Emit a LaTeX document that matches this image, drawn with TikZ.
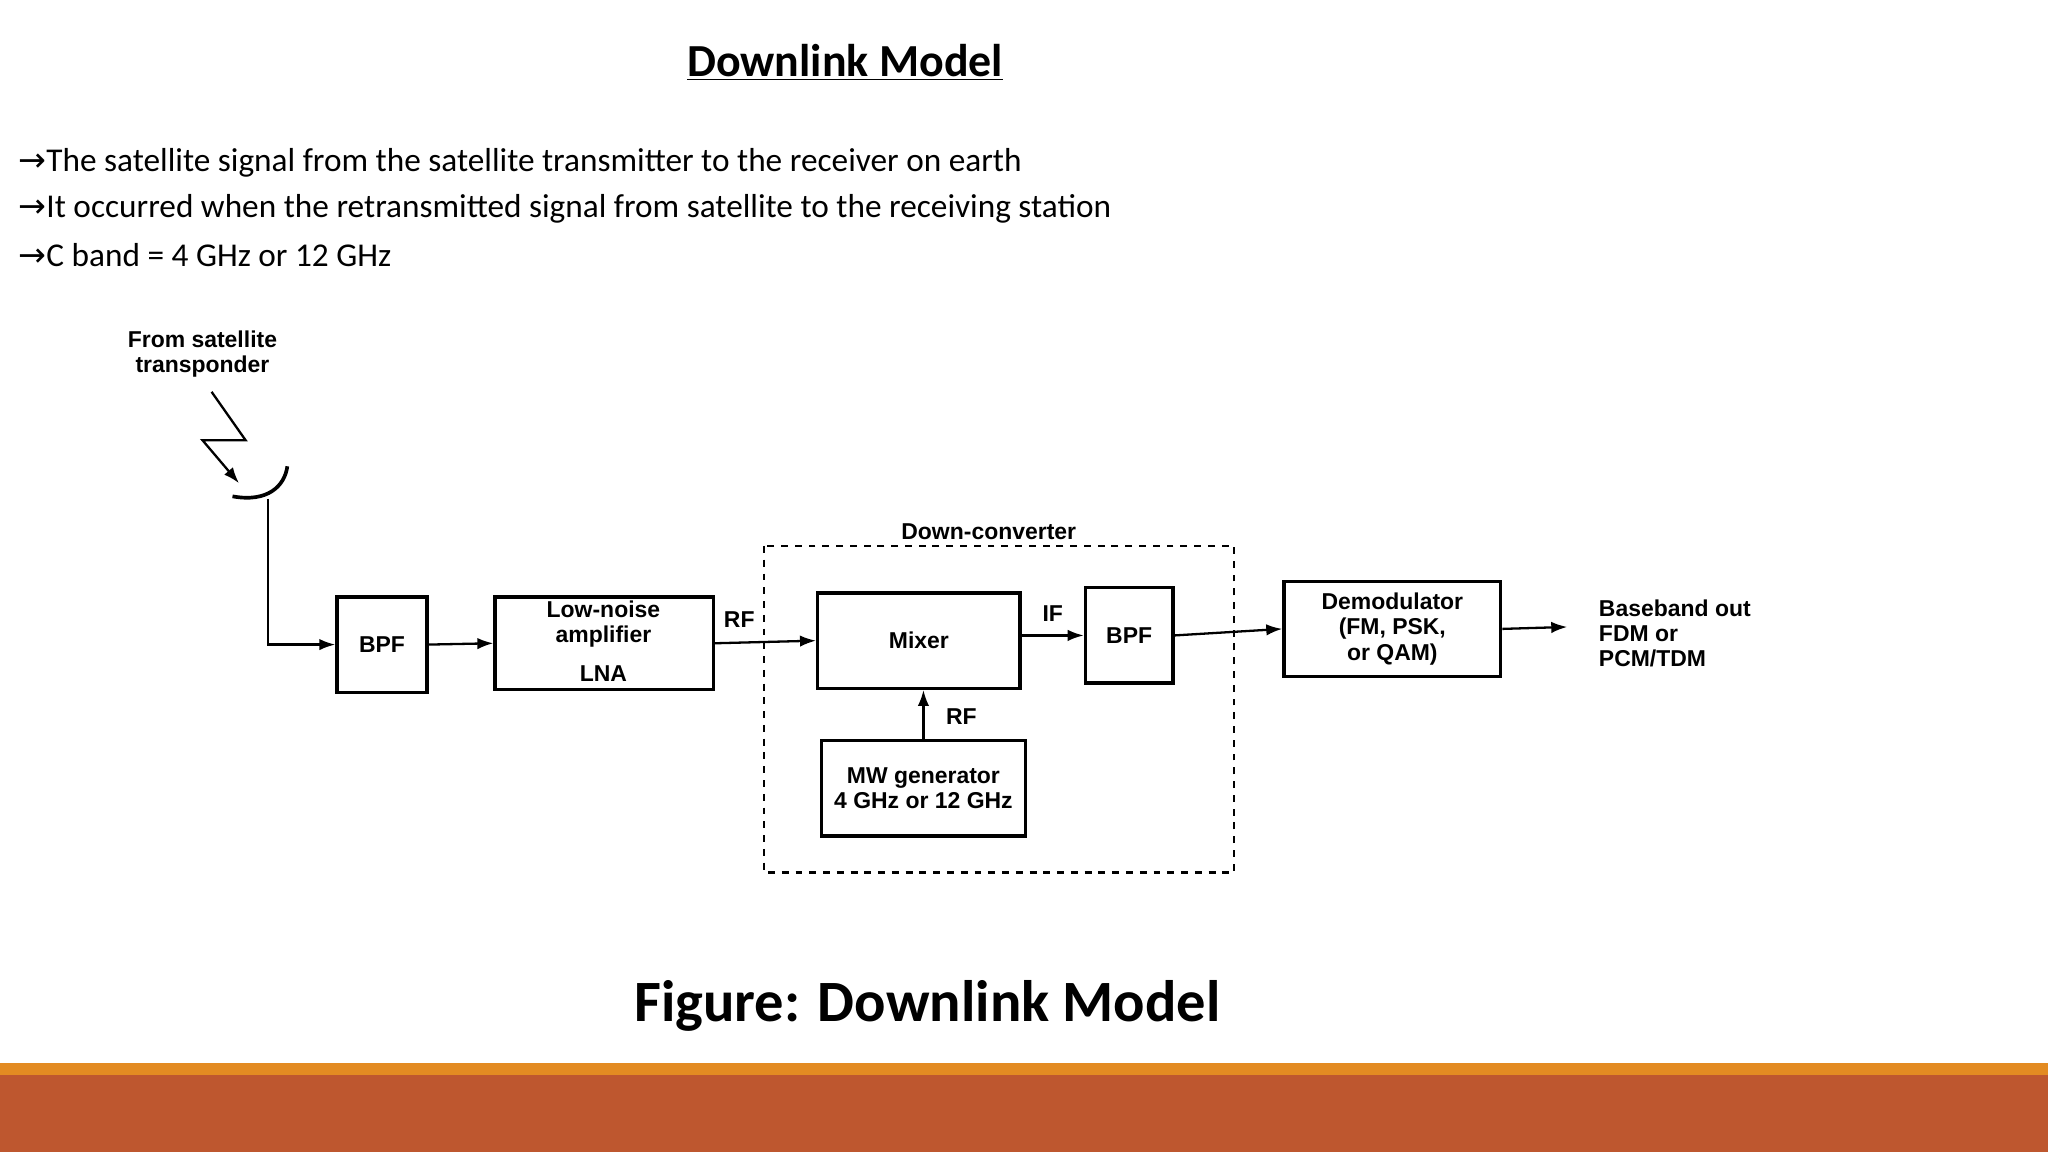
\documentclass[tikz,border=0pt]{standalone}
\usepackage{fontspec}
\setmainfont{Carlito}
\newfontfamily\arr{DejaVu Sans}
\newfontfamily\dg{Liberation Sans}
\usetikzlibrary{arrows.meta}
\definecolor{barA}{HTML}{E38B22}
\definecolor{barB}{HTML}{BE572F}
\begin{document}
\begin{tikzpicture}[x=0.02cm,y=-0.02cm,
  blk/.style={draw,line width=1.4pt,inner sep=0pt},
  lab/.style={font=\dg\bfseries\fontsize{10}{11}\selectfont,align=center},
  con/.style={line width=1pt,-{Latex[length=7pt,width=5pt]}},
  bul/.style={anchor=west,font=\fontsize{14.5}{16}\selectfont}]
\useasboundingbox (0,0) rectangle (1568,882);
\fill[barA] (0,814) rectangle (1568,823);
\fill[barB] (0,823) rectangle (1568,882);
\node[font=\bfseries\fontsize{20}{22}\selectfont] (title) at (647,48) {\underline{Downlink Model}};
\node[bul] (b1) at (8,125) {{\arr →}The satellite signal from the satellite transmitter to the receiver on earth};
\node[bul] (b2) at (8,160) {{\arr →}It occurred when the retransmitted signal from satellite to the receiving station};
\node[bul] (b3) at (8,195) {{\arr →}C band = 4 GHz or 12 GHz};
\node[font=\bfseries\fontsize{25.5}{28}\selectfont] (cap) at (710,770) {Figure: Downlink Model};
% diagram
\node[lab] (src) at (155,271) {From satellite\\transponder};
\coordinate (z1) at (162,300); \coordinate (z2) at (188,337);
\coordinate (z3) at (155,337); \coordinate (z4) at (183,370);
\draw[line width=1pt,-{Latex[length=7pt,width=5pt]}] (z1)--(z2)--(z3)--(z4);
\draw[line width=1.6pt] (178,380) .. controls (205,385) and (218,372) .. (220,357);
\coordinate (feed) at (205,382);
\node[blk,minimum width=1.38cm,minimum height=1.46cm,lab] (bpf1) at (292.5,493.5) {BPF};
\node[blk,minimum width=3.34cm,minimum height=1.42cm] (lna) at (462.5,492.5) {};
\node[lab] (lnat) at (462,478) {Low-noise\\amplifier};
\node[lab] (lnab) at (462,516) {LNA};
\draw[dashed,line width=1pt] (585,418) rectangle (945,668);
\node[lab] (dc) at (757,407) {Down-converter};
\node[blk,minimum width=3.1cm,minimum height=1.46cm,lab] (mix) at (703.5,490.5) {Mixer};
\node[blk,minimum width=1.34cm,minimum height=1.46cm,lab] (bpf2) at (864.5,486.5) {BPF};
\node[blk,minimum width=3.32cm,minimum height=1.46cm,lab] (dem) at (1066,481.5) {Demodulator\\(FM, PSK,\\or QAM)};
\node[blk,minimum width=3.12cm,minimum height=1.46cm,lab] (mw) at (707,603.5) {MW generator\\4 GHz or 12 GHz};
\coordinate (out) at (1200,480);
\node[lab,align=left,anchor=north west] (bb) at (1218,453) {Baseband out\\FDM or\\PCM/TDM};
\draw[con] (feed) |- (bpf1.west);
\draw[con] (bpf1.east) -- (lna.west);
\draw[con] (lna.east) -- (mix.west);
\node[lab] (rf1) at (566,474) {RF};
\draw[con] (mix.east|-bpf2.west) -- (bpf2.west);
\node[lab] (if) at (806,470) {IF};
\draw[con] (bpf2.east) -- (dem.west);
\draw[con] (dem.east) -- (out);
\draw[con] (mw.north) -- (mix.south-|mw.north);
\node[lab] (rf2) at (736,549) {RF};
\end{tikzpicture}
\end{document}
